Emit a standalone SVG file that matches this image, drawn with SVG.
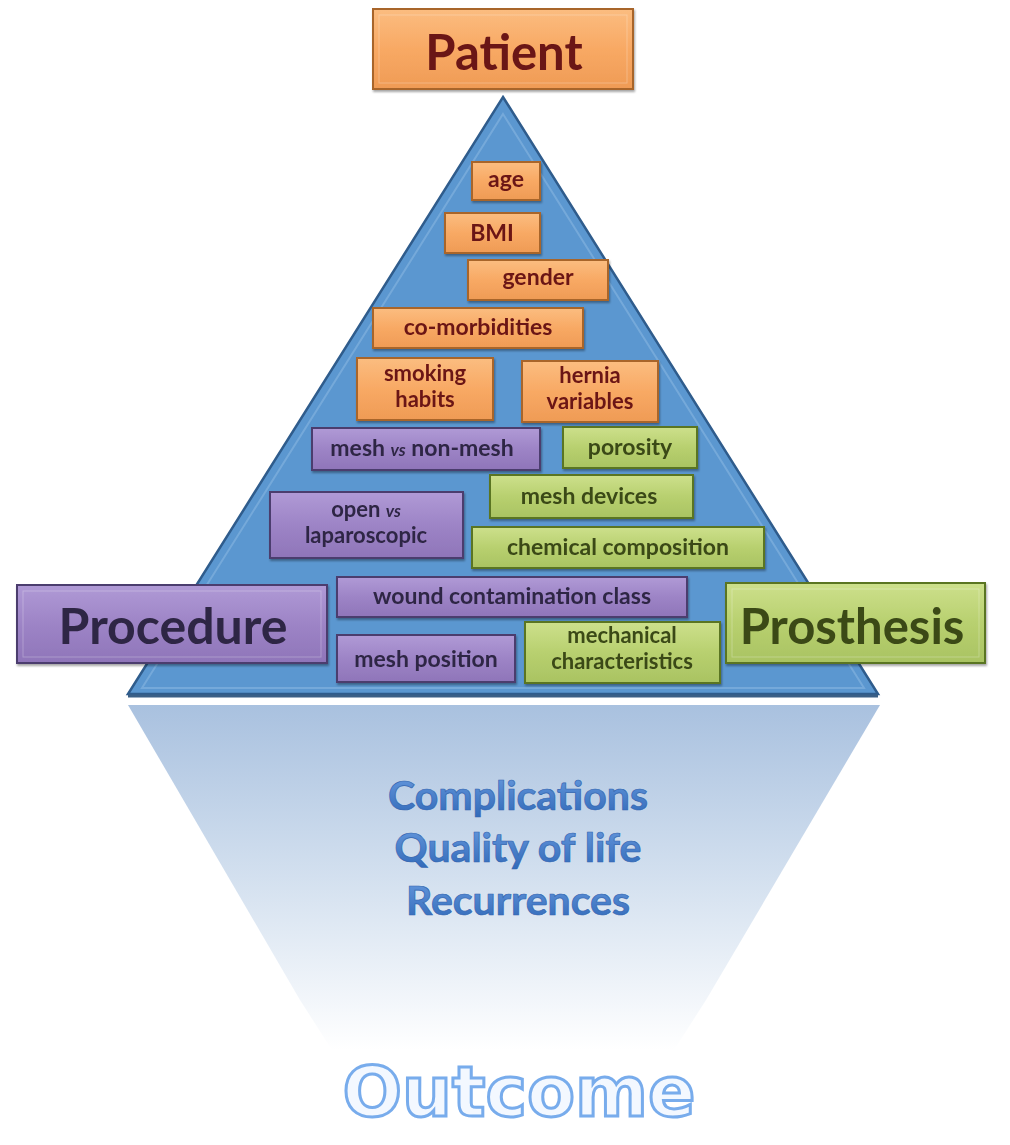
<svg xmlns="http://www.w3.org/2000/svg" width="1010" height="1145" viewBox="0 0 1010 1145">
<defs>
<linearGradient id="gOr" x1="0" y1="0" x2="0" y2="1"><stop offset="0" stop-color="#fbbd80"/><stop offset="0.5" stop-color="#f8a964"/><stop offset="1" stop-color="#ef9b55"/></linearGradient>
<linearGradient id="gPu" x1="0" y1="0" x2="0" y2="1"><stop offset="0" stop-color="#b09ad6"/><stop offset="0.5" stop-color="#9d84c6"/><stop offset="1" stop-color="#8f75b9"/></linearGradient>
<linearGradient id="gGr" x1="0" y1="0" x2="0" y2="1"><stop offset="0" stop-color="#cde08c"/><stop offset="0.5" stop-color="#b8d06f"/><stop offset="1" stop-color="#a9c362"/></linearGradient>
<linearGradient id="gFun" x1="0" y1="0" x2="0" y2="1"><stop offset="0" stop-color="#a9c1df"/><stop offset="0.5" stop-color="#d3e0ef"/><stop offset="1" stop-color="#ffffff"/></linearGradient>
<linearGradient id="gTxt" x1="0" y1="0" x2="0" y2="1"><stop offset="0" stop-color="#6a9ce0"/><stop offset="1" stop-color="#2f68b8"/></linearGradient>
<filter id="sh" x="-10%" y="-10%" width="120%" height="130%"><feDropShadow dx="1" dy="2" stdDeviation="1.2" flood-color="#000" flood-opacity="0.35"/></filter>
</defs>
<style>
.or{fill:url(#gOr);stroke:#a8652c;stroke-width:2}
.pu{fill:url(#gPu);stroke:#4c3c6e;stroke-width:2}
.gr{fill:url(#gGr);stroke:#5a7524;stroke-width:2}
.in{fill:none;stroke:#ffffff;stroke-opacity:0.25;stroke-width:1}
text{font-family:Lato,"Open Sans","Liberation Sans",sans-serif;font-weight:bold;text-anchor:middle}
.to{fill:#6b1313;font-size:23px}
.tp{fill:#2f2645;font-size:23px}
.tg{fill:#3a4818;font-size:23px}
.two{font-size:22px}
.vs{font-style:italic;font-size:17px}
.big{font-size:48px}
.out{font-family:"Lato","Open Sans",sans-serif;font-size:41px;fill:url(#gTxt);stroke:#3466b0;stroke-width:0.7}
</style>
<rect width="1010" height="1145" fill="#ffffff"/>
<g id="funnel">
<polygon points="128,705 880,705 706,1000 674,1050 332,1050 300,1000" fill="url(#gFun)"/>
</g>
<g id="pyramid">
<polygon points="503,97 878,694 128,694" fill="#5b97d0" stroke="#2f5c8c" stroke-width="2.5"/>
<polygon points="503,114 864,688 142,688" fill="none" stroke="#8fbbe4" stroke-opacity="0.5" stroke-width="2"/>
<line x1="128" y1="696" x2="878" y2="696" stroke="#3a5f86" stroke-width="3"/>
</g>
<g id="connectors"/>
<g id="patient" filter="url(#sh)"><rect class="or" x="373" y="9" width="260" height="80"/><rect class="in" x="379" y="15" width="248" height="68"/><text class="to big" x="504" y="70" style="font-size:49px">Patient</text></g>
<g id="age" filter="url(#sh)"><rect class="or" x="472" y="162" width="68" height="38"/><text class="to" x="506" y="187">age</text></g>
<g id="bmi" filter="url(#sh)"><rect class="or" x="445" y="213" width="95" height="40"/><text class="to" x="492" y="241">BMI</text></g>
<g id="gender" filter="url(#sh)"><rect class="or" x="468" y="260" width="140" height="40"/><text class="to" x="538" y="285">gender</text></g>
<g id="comorbidities" filter="url(#sh)"><rect class="or" x="373" y="308" width="210" height="40"/><text class="to" x="478" y="335">co-morbidities</text></g>
<g id="smoking" filter="url(#sh)"><rect class="or" x="357" y="358" width="136" height="62"/><text class="to two" x="425" y="381">smoking</text><text class="to two" x="425" y="407">habits</text></g>
<g id="hernia" filter="url(#sh)"><rect class="or" x="522" y="361" width="136" height="61"/><text class="to two" x="590" y="383">hernia</text><text class="to two" x="590" y="409">variables</text></g>
<g id="meshvs" filter="url(#sh)"><rect class="pu" x="312" y="428" width="228" height="42"/><text class="tp" x="422" y="456">mesh <tspan class="vs">vs</tspan> non-mesh</text></g>
<g id="porosity" filter="url(#sh)"><rect class="gr" x="563" y="427" width="134" height="41"/><text class="tg" x="630" y="455">porosity</text></g>
<g id="meshdevices" filter="url(#sh)"><rect class="gr" x="490" y="475" width="203" height="43"/><text class="tg" x="589" y="504">mesh devices</text></g>
<g id="openvs" filter="url(#sh)"><rect class="pu" x="270" y="492" width="193" height="66"/><text class="tp two" x="366" y="517">open <tspan class="vs">vs</tspan></text><text class="tp two" x="366" y="543">laparoscopic</text></g>
<g id="chemical" filter="url(#sh)"><rect class="gr" x="472" y="527" width="292" height="41"/><text class="tg" x="618" y="555">chemical composition</text></g>
<g id="wound" filter="url(#sh)"><rect class="pu" x="337" y="577" width="350" height="40"/><text class="tp" x="512" y="604">wound contamination class</text></g>
<g id="procedure" filter="url(#sh)"><rect class="pu" x="17" y="585" width="310" height="78"/><rect class="in" x="23" y="591" width="298" height="66"/><text class="tp big" x="173" y="644" style="font-size:50px">Procedure</text></g>
<g id="meshposition" filter="url(#sh)"><rect class="pu" x="337" y="635" width="178" height="47"/><text class="tp" x="426" y="667">mesh position</text></g>
<g id="mechanical" filter="url(#sh)"><rect class="gr" x="525" y="622" width="195" height="61"/><text class="tg two" x="622" y="643">mechanical</text><text class="tg two" x="622" y="669">characteristics</text></g>
<g id="prosthesis" filter="url(#sh)"><rect class="gr" x="726" y="583" width="259" height="80"/><rect class="in" x="732" y="589" width="247" height="68"/><text class="tg big" x="852" y="644" style="font-size:49px">Prosthesis</text></g>
<g id="outcomes">
<text class="out" x="518" y="810">Complications</text>
<text class="out" x="518" y="862">Quality of life</text>
<text class="out" x="518" y="915">Recurrences</text>
</g>
<g id="outcome">
<text x="519" y="1116" style="font-family:'DejaVu Sans',Verdana,sans-serif;font-weight:bold;font-size:70px;fill:#f3f8ff;stroke:#78acec;stroke-width:3">Outcome</text>
</g>
</svg>
